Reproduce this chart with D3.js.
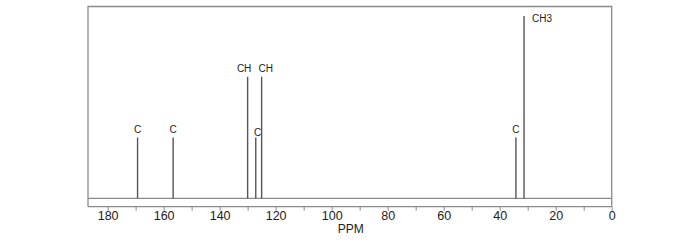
<!DOCTYPE html>
<html><head><meta charset="utf-8">
<script src="https://cdn.jsdelivr.net/npm/d3@7"></script>
<style>body{margin:0;background:#fff}svg{display:block}</style>
</head><body>
<svg id="c" width="700" height="240"></svg>
<script>
const shifts = [169.3, 156.6, 130.0, 127.1, 125.0, 34.2, 31.3];
const intensities = [1, 1, 2, 1, 2, 1, 3];
const labels = ["C", "C", "CH", "C", "CH", "C", "CH3"];
const tickValues = [180, 160, 140, 120, 100, 80, 60, 40, 20, 0];

(function(){
const svg = d3.select("#c");
const mL = 88, mR = 611.7, mT = 6.5, base = 198.3, axisY = 206.7;
const x = d3.scaleLinear().domain([187, 0]).range([mL, mR]);
const y = d3.scaleLinear().domain([0, 3]).range([base, 16]);
const font = "Liberation Sans, Arial, sans-serif";

svg.append("path").attr("fill","none").attr("stroke","#8a8a8a").attr("stroke-width",1.3)
  .attr("d", `M${mL},${axisY}V${mT}H${mR}V${axisY}`);
svg.append("line").attr("x1",mL).attr("x2",mR).attr("y1",base).attr("y2",base)
  .attr("stroke","#8a8a8a").attr("stroke-width",1.3);

const ax = d3.axisBottom(x).tickValues(d3.range(0, 181, 10)).tickSize(4).tickSizeOuter(0)
  .tickFormat(d => tickValues.includes(d) ? d : "");
const g = svg.append("g").attr("transform",`translate(0,${axisY})`).call(ax);
g.select(".domain").attr("stroke","#8a8a8a").attr("stroke-width",1.3).attr("d",`M${mL},0H${mR}`);
g.selectAll(".tick line").attr("stroke","#8a8a8a");
g.selectAll(".tick text").attr("font-family",font)
  .attr("font-size",12.5).attr("fill","#222").attr("dy","0.55em").attr("y",6.5);

svg.append("text").attr("x",(mL+mR)/2+1).attr("y",232.5).attr("text-anchor","middle")
  .attr("font-family",font).attr("font-size",12).attr("fill","#222").text("PPM");

const data = shifts.map((s,i)=>({s, h:intensities[i], l:labels[i]}));
svg.selectAll("line.peak").data(data).join("line").attr("class","peak")
  .attr("x1",d=>x(d.s)).attr("x2",d=>x(d.s)).attr("y1",base).attr("y2",d=>y(d.h))
  .attr("stroke","#555").attr("stroke-width",1.4);

// label offsets to avoid overlap (dx, dy relative to peak top)
const off = d => {
  if (d.l === "CH3") return [8, 5.5, "start"];
  if (d.l === "CH") return [d.s > 128 ? -3.5 : 4, -5, "middle"];
  if (d.l === "C" && d.s > 126 && d.s < 128) return [1.8, -1.5, "middle"];
  return [0, -5, "middle"];
};
svg.selectAll("text.lab").data(data).join("text").attr("class","lab")
  .attr("x",d=> x(d.s) + off(d)[0])
  .attr("y",d=> y(d.h) + off(d)[1])
  .attr("text-anchor",d=> off(d)[2])
  .attr("font-family",font).attr("font-size",10).attr("fill","#222")
  .text(d=>d.l);
})();
</script>
</body></html>
